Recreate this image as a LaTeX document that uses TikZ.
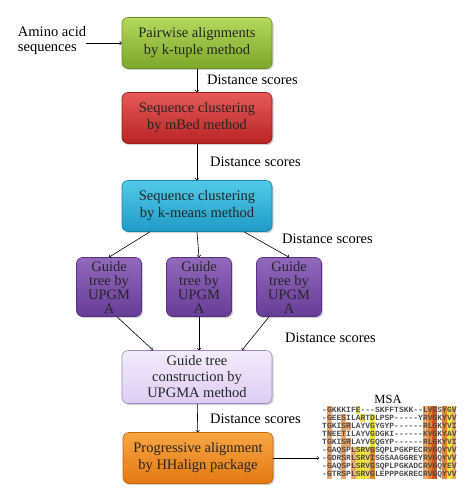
\documentclass[tikz,border=0pt]{standalone}
\usepackage{fontspec}
\setmainfont{Liberation Serif}
\setmonofont{Liberation Mono}
\usetikzlibrary{shadows}

\definecolor{gtop}{HTML}{B4D85C}
\definecolor{gbot}{HTML}{7CA72A}
\definecolor{gline}{HTML}{6A9022}
\definecolor{rtop}{HTML}{E45A58}
\definecolor{rbot}{HTML}{B82424}
\definecolor{rline}{HTML}{9A1C1C}
\definecolor{btop}{HTML}{52CAE8}
\definecolor{bbot}{HTML}{1E9BC6}
\definecolor{bline}{HTML}{1784A8}
\definecolor{ptop}{HTML}{9069BC}
\definecolor{pbot}{HTML}{673C96}
\definecolor{pline}{HTML}{573080}
\definecolor{ltop}{HTML}{F2ECFC}
\definecolor{lbot}{HTML}{DCCDF2}
\definecolor{lline}{HTML}{9E88C8}
\definecolor{otop}{HTML}{F8A642}
\definecolor{obot}{HTML}{E47812}
\definecolor{oline}{HTML}{C4660C}
\definecolor{msaor}{HTML}{F2A66A}
\definecolor{msamd}{HTML}{E8842E}
\definecolor{msadk}{HTML}{D4561A}
\definecolor{msaye}{HTML}{F2E43E}

\tikzset{
  box/.style={rounded corners=6pt, line width=0.6pt, minimum width=150pt,
    minimum height=51pt, align=center, text=black!85,
    font=\fontsize{14.5}{17}\selectfont,
    drop shadow={opacity=0.35, shadow xshift=1.5pt, shadow yshift=-1.5pt}},
  gbox/.style={box, draw=gline, top color=gtop, bottom color=gbot},
  rbox/.style={box, draw=rline, top color=rtop, bottom color=rbot},
  bbox/.style={box, draw=bline, top color=btop, bottom color=bbot},
  pbox/.style={box, draw=pline, top color=ptop, bottom color=pbot,
    minimum width=65pt, minimum height=59pt, inner sep=1pt,
    font=\fontsize{14.5}{14}\selectfont},
  lbox/.style={box, draw=lline, top color=ltop, bottom color=lbot,
    minimum height=53pt, font=\fontsize{14.5}{16}\selectfont},
  obox/.style={box, draw=oline, top color=otop, bottom color=obot},
  lbl/.style={anchor=west, inner sep=0pt, font=\fontsize{14.5}{17}\selectfont},
  arr/.style={->, line width=0.6pt},
  msatxt/.style={anchor=west, inner sep=0pt, text=black!70,
    font=\fontsize{8}{8}\selectfont\ttfamily\bfseries}
}

\begin{document}
\begin{tikzpicture}[x=1pt, y=-1pt]
  \useasboundingbox (0,0) rectangle (474,504);

  % Caixas do fluxo
  \node[align=left, inner sep=0pt, font=\fontsize{14.5}{15}\selectfont] (amino) at (52,41) {Amino acid\\sequences};
  \node[gbox] (pair) at (197,43) {Pairwise alignments\\by k-tuple method};
  \node[rbox] (mbed) at (197,118) {Sequence clustering\\by mBed method};
  \node[bbox] (kmeans) at (197,206) {Sequence clustering\\by k-means method};
  \node[pbox] (g1) at (109,287) {Guide\\tree by\\UPGM\\A};
  \node[pbox] (g2) at (199,287) {Guide\\tree by\\UPGM\\A};
  \node[pbox] (g3) at (289,287) {Guide\\tree by\\UPGM\\A};
  \node[lbox] (guide) at (197,377) {Guide tree\\construction by\\UPGMA method};
  \node[obox] (prog) at (198,458) {Progressive alignment\\by HHalign package};

  % Setas
  \draw[arr] (amino.east |- pair) -- (pair);
  \draw[arr] (pair) -- (mbed);
  \draw[arr] (mbed) -- (kmeans);
  \draw[arr] ([xshift=-47pt]kmeans.south) -- (g1.north);
  \draw[arr] (kmeans.south) -- (g2.north);
  \draw[arr] ([xshift=47pt]kmeans.south) -- (g3.north);
  \draw[arr] ([xshift=8pt]g1.south) -- ([xshift=-44pt]guide.north);
  \draw[arr] (g2.south) -- (guide.north -| g2.south);
  \draw[arr] ([xshift=-20pt]g3.south) -- ([xshift=45pt]guide.north);
  \draw[arr] (guide) -- (prog);
  \coordinate (msain) at (319,458);
  \draw[arr] (prog) -- (msain);

  % Rotulos
  \node[lbl] (d1) at (207,80) {Distance scores};
  \node[lbl] (d2) at (210,162) {Distance scores};
  \node[lbl] (d3) at (282,239) {Distance scores};
  \node[lbl] (d4) at (285,338) {Distance scores};
  \node[lbl] (d5) at (210,419) {Distance scores};
  \node[font=\fontsize{12.5}{14}\selectfont, inner sep=0pt] (msa) at (388,399) {MSA};

  % Alinhamento: celulas coloridas e sequencias
  \foreach \c/\ra/\rb/\cor in {2/1/9/msaor, 5/2/9/msaor, 6/3/3/msaor, 6/5/5/msaor,
      7/6/9/msaor, 8/1/1/msaye, 9/2/2/msaye, 11/2/5/msaye, 8/6/9/msaye,
      9/6/9/msaye, 10/6/9/msaye, 11/6/9/msamd, 22/1/9/msaor, 23/1/9/msamd,
      24/1/9/msadk, 26/1/9/msamd, 27/1/9/msaye, 28/1/9/msaor}
    \fill[\cor] (322+4.8*\c-4.8, 406+8.1*\ra-8.1) rectangle ++(4.8, 8.1*\rb-8.1*\ra+8.1);
  \foreach \s [count=\r] in {-GKKKIFE---SKFFTSKK--LVGSYGV,
      -GEESILARTDLPSP-----YRVGKYVV, TGKISRLAYVGYGYP------RLGKYVI,
      TNEETILAYVGDGKI------KVGKYAV, TGKISRLAYVGQGYP------RLGKYVI,
      -GAQSPLSRVGSQPLPGKPECRVGQYVV, -GDRSRLSRVISGSAAGGREYRVGQYVV,
      -GAQSPLSRVGSQPLPGKADCRVGQYEV, -GTRSPLSRVGLEPPPGKRECRVGQYVV}
    \node[msatxt] (m\r) at (322, 410.05+8.1*\r-8.1) {\s};
\end{tikzpicture}
\end{document}
